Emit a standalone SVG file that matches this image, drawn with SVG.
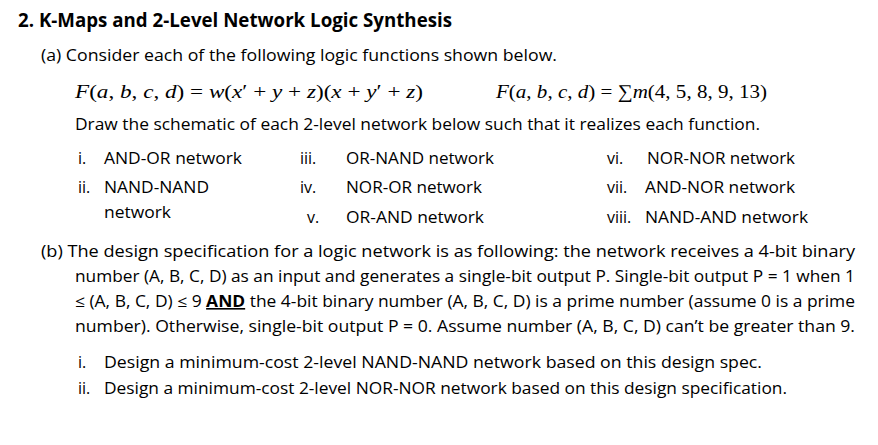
<svg xmlns="http://www.w3.org/2000/svg" width="878" height="445" viewBox="0 0 878 445">
<style>
text{font-family:"Open Sans","Liberation Sans",sans-serif;font-size:16px;fill:#000}
.t{font-size:19.5px;font-weight:bold}
.m{font-family:"Liberation Serif",serif;font-style:italic;font-size:19px}
.n{font-family:"Liberation Serif",serif;font-style:normal}
</style>
<rect width="878" height="445" fill="#fff"/>
<g id="title"><text class="t" x="18" y="27" textLength="434" lengthAdjust="spacingAndGlyphs">2. K-Maps and 2-Level Network Logic Synthesis</text></g>
<g id="partA">
<text x="41" y="61" textLength="516" lengthAdjust="spacingAndGlyphs">(a) Consider each of the following logic functions shown below.</text>
<text class="m" x="75" y="98" textLength="348" lengthAdjust="spacingAndGlyphs">F<tspan class="n">(</tspan>a<tspan class="n">, </tspan>b<tspan class="n">, </tspan>c<tspan class="n">, </tspan>d<tspan class="n">) = </tspan>w<tspan class="n">(</tspan>x<tspan class="n">′ + </tspan>y<tspan class="n"> + </tspan>z<tspan class="n">)(</tspan>x<tspan class="n"> + </tspan>y<tspan class="n">′ + </tspan>z<tspan class="n">)</tspan></text>
<text class="m" x="496" y="98" textLength="271" lengthAdjust="spacingAndGlyphs">F<tspan class="n">(</tspan>a<tspan class="n">, </tspan>b<tspan class="n">, </tspan>c<tspan class="n">, </tspan>d<tspan class="n">) = ∑</tspan>m<tspan class="n">(4, 5, 8, 9, 13)</tspan></text>
<text x="75" y="130" textLength="685" lengthAdjust="spacingAndGlyphs">Draw the schematic of each 2-level network below such that it realizes each function.</text>
<text x="78" y="164">i.</text><text x="104" y="164" textLength="138" lengthAdjust="spacingAndGlyphs">AND-OR network</text>
<text x="300" y="164">iii.</text><text x="346" y="164" textLength="148" lengthAdjust="spacingAndGlyphs">OR-NAND network</text>
<text x="607" y="164">vi.</text><text x="647" y="164" textLength="148" lengthAdjust="spacingAndGlyphs">NOR-NOR network</text>
<text x="78" y="193">ii.</text><text x="104" y="193" textLength="105" lengthAdjust="spacingAndGlyphs">NAND-NAND</text>
<text x="104" y="218" textLength="67" lengthAdjust="spacingAndGlyphs">network</text>
<text x="300" y="193">iv.</text><text x="346" y="193" textLength="136" lengthAdjust="spacingAndGlyphs">NOR-OR network</text>
<text x="607" y="193">vii.</text><text x="645" y="193" textLength="150" lengthAdjust="spacingAndGlyphs">AND-NOR network</text>
<text x="307" y="223">v.</text><text x="346" y="223" textLength="138" lengthAdjust="spacingAndGlyphs">OR-AND network</text>
<text x="607" y="223">viii.</text><text x="645" y="223" textLength="163" lengthAdjust="spacingAndGlyphs">NAND-AND network</text>
</g>
<g id="partB">
<text x="41" y="257" textLength="814" lengthAdjust="spacingAndGlyphs">(b) The design specification for a logic network is as following: the network receives a 4-bit binary</text>
<text x="75" y="282" textLength="780" lengthAdjust="spacingAndGlyphs">number (A, B, C, D) as an input and generates a single-bit output P. Single-bit output P = 1 when 1</text>
<text x="75" y="307" textLength="780" lengthAdjust="spacingAndGlyphs">≤ (A, B, C, D) ≤ 9 <tspan font-weight="bold" text-decoration="underline">AND</tspan> the 4-bit binary number (A, B, C, D) is a prime number (assume 0 is a prime</text>
<text x="75" y="332" textLength="780" lengthAdjust="spacingAndGlyphs">number).  Otherwise, single-bit output P = 0.  Assume number (A, B, C, D) can’t be greater than 9.</text>
<text x="78" y="368">i.</text><text x="104" y="368" textLength="658" lengthAdjust="spacingAndGlyphs">Design a minimum-cost 2-level NAND-NAND network based on this design spec.</text>
<text x="78" y="394">ii.</text><text x="104" y="394" textLength="683" lengthAdjust="spacingAndGlyphs">Design a minimum-cost 2-level NOR-NOR network based on this design specification.</text>
</g>
</svg>
